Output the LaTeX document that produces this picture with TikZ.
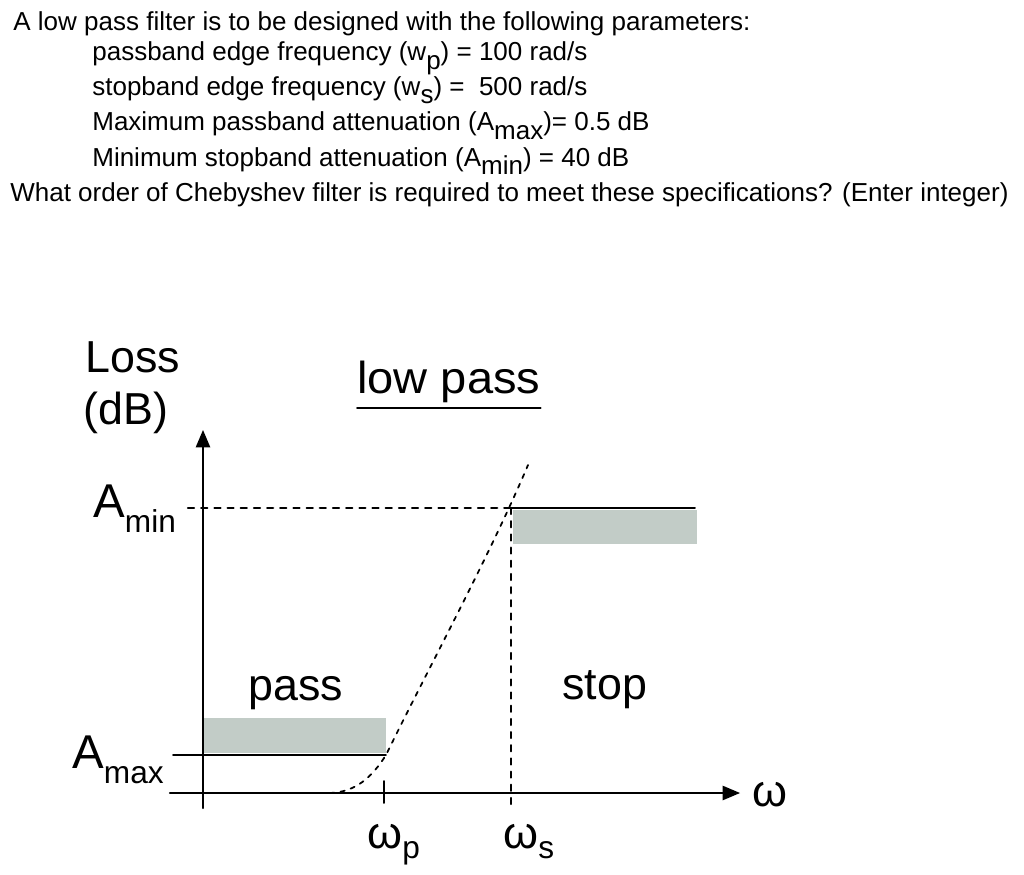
\documentclass[tikz,border=0pt]{standalone}
\usepackage{fontspec}
\setmainfont{Liberation Sans}
\usepackage{xcolor}
\usetikzlibrary{arrows}
\definecolor{ccddcc}{rgb}{0.76,0.80,0.78}
\newcommand{\qfont}{\fontsize{14.8}{17}\selectfont}
\newcommand{\qsub}[1]{\raisebox{-0.32em}{#1}}
\newcommand{\bigfont}{\fontsize{25.5}{30}\selectfont}
\newcommand{\subfont}{\fontsize{18}{21}\selectfont}
\begin{document}
\begin{tikzpicture}[line cap=round,line join=round,>=triangle 45,x=0.02cm,y=-0.02cm,
  qline/.style={anchor=base west,inner sep=0,font=\qfont},
  lbl/.style={anchor=base west,inner sep=0,font=\bigfont},
  axis/.style={line width=1.3pt},
  level/.style={line width=1.1pt},
  guide/.style={line width=1.2pt,dash pattern=on 3.5pt off 4pt},
  resp/.style={line width=1pt,dash pattern=on 2.5pt off 3.5pt}]
\useasboundingbox (0,0) rectangle (1024,875);
% question
\node[qline] (q1) at (13,31) {A low pass filter is to be designed with the following parameters:};
\node[qline] (q2) at (92,61) {passband edge frequency (w\qsub{p}) = 100 rad/s};
\node[qline] (q3) at (92,95) {stopband edge frequency (w\qsub{s}) = \ 500 rad/s};
\node[qline] (q4) at (92,131) {Maximum passband attenuation (A\qsub{max})= 0.5 dB};
\node[qline] (q5) at (92,166) {Minimum stopband attenuation (A\qsub{min}) = 40 dB};
\node[qline] (q6) at (10,201) {What order of Chebyshev filter is required to meet these specifications? (Enter integer)};
% bands
\fill[ccddcc] (203,718) rectangle (386,753);
\fill[ccddcc] (513,510) rectangle (697,544);
% axes
\coordinate (yend) at (203,808);
\coordinate (ytip) at (203,430);
\coordinate (xstart) at (170,793);
\coordinate (xtip) at (740,793);
\draw[->,axis] (yend) -- (ytip);
\draw[->,axis] (xstart) -- (xtip);
% levels
\coordinate (amaxL) at (173,755);
\coordinate (P) at (386,755);
\coordinate (aminL) at (188,508);
\coordinate (S) at (511,508);
\coordinate (aminR) at (695,508);
\coordinate (wsB) at (511,806);
\coordinate (tickT) at (384,781);
\coordinate (tickB) at (384,803);
\draw[level] (amaxL) -- (P);
\draw[guide] (aminL) -- (S);
\draw[level] (S) -- (aminR);
\draw[guide] (S) -- (wsB);
\draw[level] (tickT) -- (tickB);
% response
\coordinate (c0) at (330,793);
\coordinate (c1) at (528,465);
\draw[resp] (c0) .. controls (356,792) and (372,777) .. (P) .. controls (425,675) and (490,555) .. (c1);
% labels
\node[lbl] (loss) at (85,372) {Loss};
\node[lbl] (db) at (83,424) {(dB)};
\node[lbl] (title) at (357,393) {\scalebox{1.05}[1]{low pass}};
\draw[level] ([yshift=-3pt]title.south west) -- ([yshift=-3pt]title.south east);
\node[lbl] (pass) at (248,700) {pass};
\node[lbl] (stop) at (562,699) {stop};
\node[anchor=base west,inner sep=0] (amin) at (93,517) {\fontsize{27}{30}\selectfont A\raisebox{-9pt}{\subfont min}};
\node[anchor=base west,inner sep=0] (amax) at (72,768) {\fontsize{27}{30}\selectfont A\raisebox{-9pt}{\subfont max}};
\node[lbl] (w) at (752,806) {ω};
\node[lbl] (wp) at (367,848) {ω\raisebox{-6pt}{\subfont p}};
\node[lbl] (ws) at (503,848) {ω\raisebox{-6pt}{\subfont s}};
\end{tikzpicture}
\end{document}
